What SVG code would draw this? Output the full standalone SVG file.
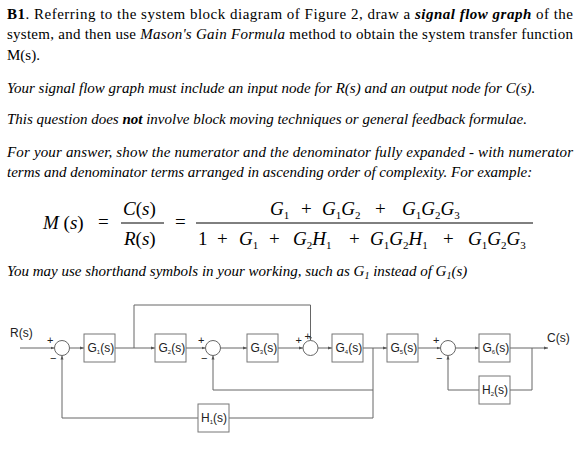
<svg xmlns="http://www.w3.org/2000/svg" width="580" height="452" viewBox="0 0 580 452">
<style>
.t{font-family:"Liberation Serif","Times New Roman",serif;font-size:15px;fill:#000}
.it{font-style:italic}
.b{font-weight:bold}
.eq{font-family:"Liberation Serif","Times New Roman",serif;font-size:19px;fill:#000}
.ei{font-style:italic}
.sub{font-size:11px;font-style:normal}
.lbl{font-family:"Liberation Sans",Arial,sans-serif;font-size:12px;fill:#222}
.bs{font-size:6px}
.sg{font-family:"Liberation Sans",Arial,sans-serif;font-size:11px;fill:#222}
.box{fill:#fff;stroke:#777;stroke-width:1}
.sum{fill:#fff;stroke:#666;stroke-width:1}
.w{fill:none;stroke:#666;stroke-width:1}
.a{marker-end:url(#ah)}
</style>
<defs>
<marker id="ah" markerWidth="4" markerHeight="4" refX="4" refY="2" orient="auto" markerUnits="userSpaceOnUse">
<path d="M0,0.5 L4,2 L0,3.5 z" fill="#555"/>
</marker>
</defs>
<rect width="580" height="452" fill="#fff"/>

<g id="question-text">
<text class="t" x="7" y="19" textLength="566" lengthAdjust="spacing"><tspan class="b">B1</tspan>. Referring to the system block diagram of Figure 2, draw a <tspan class="b it">signal flow graph</tspan> of the</text>
<text class="t" x="7" y="39" textLength="566" lengthAdjust="spacing">system, and then use <tspan class="it">Mason's Gain Formula</tspan> method to obtain the system transfer function</text>
<text class="t" x="7" y="60">M(s).</text>
<text class="t it" x="7" y="93">Your signal flow graph must include an input node for R(s) and an output node for C(s).</text>
<text class="t it" x="7" y="124">This question does <tspan class="b">not</tspan> involve block moving techniques or general feedback formulae.</text>
<text class="t it" x="7" y="157" textLength="566" lengthAdjust="spacing">For your answer, show the numerator and the denominator fully expanded - with numerator</text>
<text class="t it" x="7" y="177">terms and denominator terms arranged in ascending order of complexity. For example:</text>
<text class="t it" x="7" y="276">You may use shorthand symbols in your working, such as G<tspan font-size="10" dy="3">1</tspan><tspan dy="-3"> instead of G</tspan><tspan font-size="10" dy="3">1</tspan><tspan dy="-3">(s)</tspan></text>
</g>

<g id="equation">
<text class="eq" x="43" y="229"><tspan class="ei">M</tspan> (<tspan class="ei">s</tspan>)</text>
<text class="eq" x="98" y="228">=</text>
<text class="eq" x="123" y="215"><tspan class="ei">C</tspan>(<tspan class="ei">s</tspan>)</text>
<line x1="121" y1="223" x2="164" y2="223" stroke="#000" stroke-width="1"/>
<text class="eq" x="124" y="245"><tspan class="ei">R</tspan>(<tspan class="ei">s</tspan>)</text>
<text class="eq" x="175" y="228">=</text>
<line x1="196" y1="223" x2="533" y2="223" stroke="#000" stroke-width="1"/>
<text class="eq" x="270" y="215"><tspan class="ei">G</tspan><tspan class="sub" dy="4">1</tspan></text>
<text class="eq" x="301" y="215">+</text>
<text class="eq" x="322" y="215"><tspan class="ei">G</tspan><tspan class="sub" dy="4">1</tspan><tspan class="ei" dy="-4">G</tspan><tspan class="sub" dy="4">2</tspan></text>
<text class="eq" x="375" y="215">+</text>
<text class="eq" x="402" y="215"><tspan class="ei">G</tspan><tspan class="sub" dy="4">1</tspan><tspan class="ei" dy="-4">G</tspan><tspan class="sub" dy="4">2</tspan><tspan class="ei" dy="-4">G</tspan><tspan class="sub" dy="4">3</tspan></text>
<text class="eq" x="198" y="245">1</text>
<text class="eq" x="217" y="245">+</text>
<text class="eq" x="239" y="245"><tspan class="ei">G</tspan><tspan class="sub" dy="4">1</tspan></text>
<text class="eq" x="269" y="245">+</text>
<text class="eq" x="293" y="245"><tspan class="ei">G</tspan><tspan class="sub" dy="4">2</tspan><tspan class="ei" dy="-4">H</tspan><tspan class="sub" dy="4">1</tspan></text>
<text class="eq" x="349" y="245">+</text>
<text class="eq" x="370" y="245"><tspan class="ei">G</tspan><tspan class="sub" dy="4">1</tspan><tspan class="ei" dy="-4">G</tspan><tspan class="sub" dy="4">2</tspan><tspan class="ei" dy="-4">H</tspan><tspan class="sub" dy="4">1</tspan></text>
<text class="eq" x="443" y="245">+</text>
<text class="eq" x="468" y="245"><tspan class="ei">G</tspan><tspan class="sub" dy="4">1</tspan><tspan class="ei" dy="-4">G</tspan><tspan class="sub" dy="4">2</tspan><tspan class="ei" dy="-4">G</tspan><tspan class="sub" dy="4">3</tspan></text>
</g>

<g id="connectors">
<line class="w a" x1="20" y1="348" x2="54.5" y2="348"/>
<line class="w a" x1="69.5" y1="348" x2="84" y2="348"/>
<line class="w a" x1="115" y1="348" x2="155" y2="348"/>
<polyline class="w a" points="134,348 134,305 310.5,305 310.5,340.5"/>
<line class="w a" x1="186" y1="348" x2="205.5" y2="348"/>
<line class="w a" x1="220.5" y1="348" x2="247" y2="348"/>
<line class="w a" x1="278" y1="348" x2="303" y2="348"/>
<line class="w a" x1="318" y1="348" x2="332" y2="348"/>
<line class="w a" x1="363" y1="348" x2="387" y2="348"/>
<polyline class="w" points="373,348 373,418 229,418"/>
<polyline class="w a" points="373,390 213,390 213,355.5"/>
<polyline class="w a" points="198,418 62,418 62,355.5"/>
<line class="w a" x1="418" y1="348" x2="440.5" y2="348"/>
<line class="w a" x1="455.5" y1="348" x2="479" y2="348"/>
<line class="w a" x1="510" y1="348" x2="548" y2="348"/>
<polyline class="w" points="532,348 532,390 510,390"/>
<polyline class="w a" points="479,390 448,390 448,355.5"/>
</g>

<g id="R">
<text class="lbl" x="10" y="337">R(s)</text>
</g>
<g id="C">
<text class="lbl" x="547" y="342">C(s)</text>
</g>

<g id="sum1">
<circle class="sum" cx="62" cy="348" r="7.5"/>
<text class="sg" x="47" y="344">+</text>
<text class="sg" x="50" y="362">−</text>
</g>
<g id="G1">
<rect class="box" x="84" y="334" width="31" height="28"/>
<text class="lbl" x="87.5" y="352">G<tspan class="bs" dy="2">1</tspan><tspan dy="-2">(s)</tspan></text>
</g>
<g id="G2">
<rect class="box" x="155" y="334" width="31" height="28"/>
<text class="lbl" x="158.5" y="352">G<tspan class="bs" dy="2">2</tspan><tspan dy="-2">(s)</tspan></text>
</g>
<g id="sum2">
<circle class="sum" cx="213" cy="348" r="7.5"/>
<text class="sg" x="198" y="344">+</text>
<text class="sg" x="201" y="362">−</text>
</g>
<g id="G3">
<rect class="box" x="247" y="334" width="31" height="28"/>
<text class="lbl" x="250.5" y="352">G<tspan class="bs" dy="2">3</tspan><tspan dy="-2">(s)</tspan></text>
</g>
<g id="sum3">
<circle class="sum" cx="310.5" cy="348" r="7.5"/>
<text class="sg" x="295.5" y="344">+</text>
<text class="sg" x="304.5" y="340">+</text>
</g>
<g id="G4">
<rect class="box" x="332" y="334" width="31" height="28"/>
<text class="lbl" x="335.5" y="352">G<tspan class="bs" dy="2">4</tspan><tspan dy="-2">(s)</tspan></text>
</g>
<g id="G5">
<rect class="box" x="387" y="334" width="31" height="28"/>
<text class="lbl" x="390.5" y="352">G<tspan class="bs" dy="2">5</tspan><tspan dy="-2">(s)</tspan></text>
</g>
<g id="sum4">
<circle class="sum" cx="448" cy="348" r="7.5"/>
<text class="sg" x="433" y="344">+</text>
<text class="sg" x="436" y="362">−</text>
</g>
<g id="G6">
<rect class="box" x="479" y="334" width="31" height="28"/>
<text class="lbl" x="482.5" y="352">G<tspan class="bs" dy="2">6</tspan><tspan dy="-2">(s)</tspan></text>
</g>
<g id="H1">
<rect class="box" x="198" y="404" width="31" height="28"/>
<text class="lbl" x="201" y="422">H<tspan class="bs" dy="2">1</tspan><tspan dy="-2">(s)</tspan></text>
</g>
<g id="H2">
<rect class="box" x="479" y="376" width="31" height="28"/>
<text class="lbl" x="482" y="394">H<tspan class="bs" dy="2">2</tspan><tspan dy="-2">(s)</tspan></text>
</g>
</svg>
